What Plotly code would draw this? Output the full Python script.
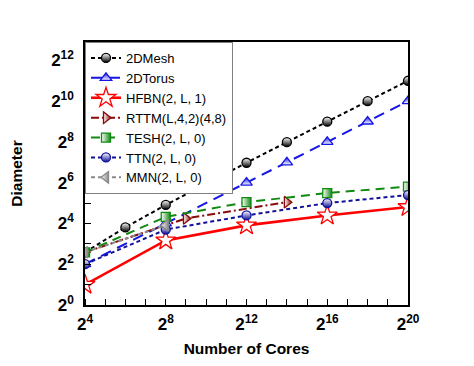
import math
import plotly.graph_objects as go

# ---- data (cores, diameter) ----
mesh_cores = [16, 64, 256, 1024, 4096, 16384, 65536, 262144, 1048576]
mesh_diam = [6, 14, 30, 62, 126, 254, 510, 1022, 2046]

torus_cores = [16, 256, 4096, 16384, 65536, 262144, 1048576]
torus_diam = [4, 16, 64, 128, 256, 512, 1024]

hfbn_cores = [16, 256, 4096, 65536, 1048576]
hfbn_diam = [2, 9, 15, 21, 28]

rttm_cores = [16, 512, 16384]
rttm_diam = [6, 19, 33]

tesh_cores = [16, 256, 4096, 65536, 1048576]
tesh_diam = [6, 20, 33, 45, 56]

ttn_cores = [16, 256, 4096, 65536, 1048576]
ttn_diam = [4, 13, 21, 32, 42]

mmn_cores = [16, 256]
mmn_diam = [6, 15]

x_tick_vals = [16, 256, 4096, 65536, 1048576]
x_tick_text = ["<b>2<sup>4</sup></b>", "<b>2<sup>8</sup></b>", "<b>2<sup>12</sup></b>",
               "<b>2<sup>16</sup></b>", "<b>2<sup>20</sup></b>"]
y_tick_vals = [1, 4, 16, 64, 256, 1024, 4096]
y_tick_text = ["<b>2<sup>0</sup></b>", "<b>2<sup>2</sup></b>", "<b>2<sup>4</sup></b>",
               "<b>2<sup>6</sup></b>", "<b>2<sup>8</sup></b>", "<b>2<sup>10</sup></b>",
               "<b>2<sup>12</sup></b>"]
x_minor = [2 ** k for k in range(4, 21)]
y_minor = [2 ** k for k in range(0, 13)]

fig = go.Figure()


def add(name, xs, ys, color, dash, width, symbol, size, fill, grad_type, grad_color):
    marker = dict(symbol=symbol, size=size, color=fill,
                  line=dict(color=color, width=1.3))
    if grad_type:
        marker["gradient"] = dict(type=grad_type, color=grad_color)
    fig.add_trace(go.Scatter(
        x=xs, y=ys, name=name, mode="lines+markers",
        line=dict(color=color, dash=dash, width=width),
        marker=marker,
    ))


add("2DMesh", mesh_cores, mesh_diam, "black", "4px,3px", 2, "circle", 9,
    "white", "vertical", "black")
add("2DTorus", torus_cores, torus_diam, "#1515e6", "11px,7px", 2, "triangle-up", 10,
    "#1515e6", "vertical", "white")
add("HFBN(2, L, 1)", hfbn_cores, hfbn_diam, "#ff0000", "solid", 2.6, "star", 15,
    "white", None, None)
add("RTTM(L,4,2)(4,8)", rttm_cores, rttm_diam, "#8b0a0a", "8px,3px,2px,3px", 2, "triangle-right", 10,
    "white", "horizontal", "#8b0a0a")
add("TESH(2, L, 0)", tesh_cores, tesh_diam, "#128a12", "9px,6px", 2, "square", 9,
    "white", "horizontal", "#128a12")
add("TTN(2, L, 0)", ttn_cores, ttn_diam, "#10109a", "4px,3px", 2, "circle", 9,
    "white", "vertical", "#10109a")
add("MMN(2, L, 0)", mmn_cores, mmn_diam, "#8a8a8a", "4px,3px", 2, "triangle-left", 10,
    "white", "horizontal", "#8a8a8a")

axis_font = dict(family="Liberation Sans, Arial, sans-serif", size=17, color="black")

fig.update_layout(
    width=466, height=358,
    margin=dict(l=77, r=66, t=34, b=61),
    paper_bgcolor="white", plot_bgcolor="white",
    font=dict(family="Liberation Sans, Arial, sans-serif", color="black"),
    showlegend=True,
    legend=dict(x=0, y=1, xanchor="left", yanchor="top",
                bgcolor="white", bordercolor="#808080", borderwidth=1,
                font=dict(size=13, family="Liberation Sans, Arial, sans-serif"),
                tracegroupgap=0, itemwidth=30),
    xaxis=dict(type="log", range=[math.log10(16), math.log10(2 ** 20)],
               tickmode="array", tickvals=x_tick_vals, ticktext=x_tick_text,
               ticks="", showgrid=False, zeroline=False, automargin=False,
               showline=True, linecolor="black", linewidth=1.5, mirror=True,
               tickfont=axis_font, ticklabelstandoff=3,
               minor=dict(tickmode="array", tickvals=x_minor, ticks="inside",
                          ticklen=6, tickwidth=1.2, tickcolor="black", showgrid=False),
               title=dict(text="<b>Number of Cores</b>", font=dict(size=15.5), standoff=10)),
    yaxis=dict(type="log", range=[0, math.log10(2 ** 12.9)],
               tickmode="array", tickvals=y_tick_vals, ticktext=y_tick_text,
               ticks="", showgrid=False, zeroline=False, automargin=False,
               showline=True, linecolor="black", linewidth=1.5, mirror=True,
               tickfont=axis_font, ticklabelstandoff=6,
               minor=dict(tickmode="array", tickvals=y_minor, ticks="inside",
                          ticklen=6, tickwidth=1.2, tickcolor="black", showgrid=False),
               title=dict(text="<b>Diameter</b>", font=dict(size=15.5), standoff=28)),
)

fig.write_html("out.html")
